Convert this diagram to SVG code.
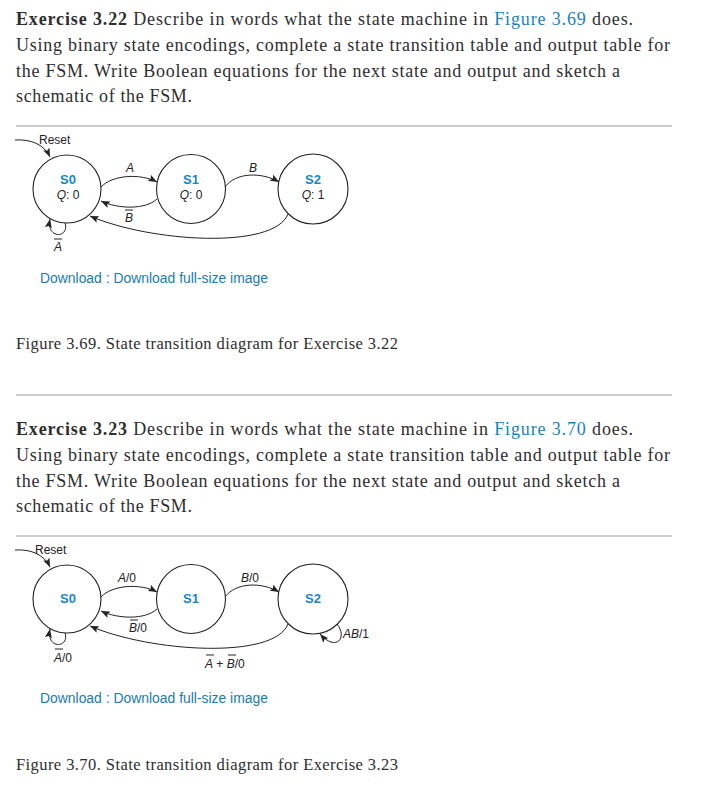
<svg xmlns="http://www.w3.org/2000/svg" width="705" height="791" viewBox="0 0 705 791">
<style>
.body{font-family:"Liberation Serif","DejaVu Serif",serif;font-size:18px;fill:#2e2e2e}
.b{font-weight:bold}
.link{fill:#1a7fbf}
.cap{font-family:"Liberation Serif","DejaVu Serif",serif;font-size:16.5px;fill:#2e2e2e}
.dl{font-family:"Liberation Sans",Arial,sans-serif;font-size:14px;fill:#1b7bb0}
.rule{stroke:#bdbdbd;stroke-width:1.5}
.st{fill:#fff;stroke:#222;stroke-width:1.1}
.sn{font-family:"Liberation Sans",Arial,sans-serif;font-size:13px;font-weight:bold;fill:#1a86c8;text-anchor:middle}
.q{font-family:"Liberation Sans",Arial,sans-serif;font-size:12px;fill:#222;text-anchor:middle}
.lb{font-family:"Liberation Sans",Arial,sans-serif;font-size:12px;fill:#222}
.i{font-style:italic}
.e{fill:none;stroke:#222;stroke-width:1}
.bar{stroke:#222;stroke-width:1}
</style>
<defs>
<marker id="ah" viewBox="0 0 10 8" refX="10" refY="4" markerWidth="9" markerHeight="7" orient="auto" markerUnits="userSpaceOnUse">
<path d="M0,0 L10,4 L0,8 L2,4 z" fill="#222"/>
</marker>
</defs>
<rect width="705" height="791" fill="#fff"/>

<!-- Exercise 3.22 text -->
<g id="ex322">
<text class="body" x="16" y="25" textLength="617" lengthAdjust="spacing"><tspan class="b">Exercise 3.22</tspan> Describe in words what the state machine in <tspan class="link">Figure 3.69</tspan> does.</text>
<text class="body" x="16" y="51" textLength="654" lengthAdjust="spacing">Using binary state encodings, complete a state transition table and output table for</text>
<text class="body" x="16" y="77" textLength="604" lengthAdjust="spacing">the FSM. Write Boolean equations for the next state and output and sketch a</text>
<text class="body" x="16" y="102" textLength="176" lengthAdjust="spacing">schematic of the FSM.</text>
</g>
<line class="rule" x1="16" y1="126" x2="672" y2="126"/>

<!-- Figure 3.69 -->
<g id="fig369-connectors">
<path class="e" d="M15,140 C30,139 44,144 50,157" marker-end="url(#ah)"/>
<path class="e" d="M101,187 C112,175 140,173 157,182" marker-end="url(#ah)"/>
<path class="e" d="M157,199 C145,210 118,209 101,201" marker-end="url(#ah)"/>
<path class="e" d="M225,187 C236,172 262,172 279,182" marker-end="url(#ah)"/>
<path class="e" d="M288,214 C274,250 150,242 90,216" marker-end="url(#ah)"/>
<path class="e" d="M65,223 C70,238 46,240 50,219" marker-end="url(#ah)"/>
</g>
<g id="fig369-S0">
<circle class="st" cx="67" cy="189" r="34"/>
<text class="sn" x="68" y="184">S0</text>
<text class="q" x="68" y="199"><tspan class="i">Q</tspan>: 0</text>
</g>
<g id="fig369-S1">
<circle class="st" cx="191" cy="189" r="34.5"/>
<text class="sn" x="191" y="184">S1</text>
<text class="q" x="191" y="199"><tspan class="i">Q</tspan>: 0</text>
</g>
<g id="fig369-S2">
<circle class="st" cx="313" cy="189" r="35"/>
<text class="sn" x="313" y="184">S2</text>
<text class="q" x="313" y="199"><tspan class="i">Q</tspan>: 1</text>
</g>
<g id="fig369-labels">
<text class="lb" x="39" y="144">Reset</text>
<text class="lb i" x="126" y="172">A</text>
<text class="lb i" x="249" y="172">B</text>
<text class="lb i" x="125" y="222">B</text>
<line class="bar" x1="125" y1="210" x2="133" y2="210"/>
<text class="lb i" x="54" y="251">A</text>
<line class="bar" x1="54" y1="239" x2="62" y2="239"/>
</g>

<g id="dl1"><text class="dl" x="40" y="283" textLength="228" lengthAdjust="spacingAndGlyphs">Download : Download full-size image</text></g>
<g id="cap1"><text class="cap" x="16" y="349" textLength="382" lengthAdjust="spacing">Figure 3.69. State transition diagram for Exercise 3.22</text></g>

<line class="rule" x1="16" y1="395" x2="672" y2="395"/>

<!-- Exercise 3.23 text -->
<g id="ex323">
<text class="body" x="16" y="435" textLength="617" lengthAdjust="spacing"><tspan class="b">Exercise 3.23</tspan> Describe in words what the state machine in <tspan class="link">Figure 3.70</tspan> does.</text>
<text class="body" x="16" y="461" textLength="654" lengthAdjust="spacing">Using binary state encodings, complete a state transition table and output table for</text>
<text class="body" x="16" y="487" textLength="604" lengthAdjust="spacing">the FSM. Write Boolean equations for the next state and output and sketch a</text>
<text class="body" x="16" y="512" textLength="176" lengthAdjust="spacing">schematic of the FSM.</text>
</g>
<line class="rule" x1="16" y1="536" x2="672" y2="536"/>

<!-- Figure 3.70 -->
<g id="fig370-connectors">
<path class="e" d="M15,550 C30,549 44,554 50,567" marker-end="url(#ah)"/>
<path class="e" d="M101,597 C112,585 140,583 157,592" marker-end="url(#ah)"/>
<path class="e" d="M157,609 C145,620 118,619 101,611" marker-end="url(#ah)"/>
<path class="e" d="M225,597 C236,582 262,582 279,592" marker-end="url(#ah)"/>
<path class="e" d="M288,624 C274,660 150,652 90,626" marker-end="url(#ah)"/>
<path class="e" d="M65,633 C70,648 46,650 50,629" marker-end="url(#ah)"/>
<path class="e" d="M337,624 C348,638 336,652 320,634" marker-end="url(#ah)"/>
</g>
<g id="fig370-S0">
<circle class="st" cx="67" cy="599" r="34"/>
<text class="sn" x="68" y="603">S0</text>
</g>
<g id="fig370-S1">
<circle class="st" cx="191" cy="599" r="34.5"/>
<text class="sn" x="191" y="603">S1</text>
</g>
<g id="fig370-S2">
<circle class="st" cx="313" cy="599" r="35"/>
<text class="sn" x="313" y="603">S2</text>
</g>
<g id="fig370-labels">
<text class="lb" x="35" y="554">Reset</text>
<text class="lb" x="118" y="582"><tspan class="i">A</tspan>/0</text>
<text class="lb" x="241" y="582"><tspan class="i">B</tspan>/0</text>
<text class="lb" x="129" y="632"><tspan class="i">B</tspan>/0</text>
<line class="bar" x1="130" y1="620" x2="138" y2="620"/>
<text class="lb" x="54" y="662"><tspan class="i">A</tspan>/0</text>
<line class="bar" x1="55" y1="649" x2="63" y2="649"/>
<text class="lb" x="343" y="638"><tspan class="i">AB</tspan>/1</text>
<text class="lb" x="205" y="668"><tspan class="i">A</tspan> + <tspan class="i">B</tspan>/0</text>
<line class="bar" x1="206" y1="655" x2="214" y2="655"/>
<line class="bar" x1="228" y1="655" x2="236" y2="655"/>
</g>

<g id="dl2"><text class="dl" x="40" y="703" textLength="228" lengthAdjust="spacingAndGlyphs">Download : Download full-size image</text></g>
<g id="cap2"><text class="cap" x="16" y="770" textLength="382" lengthAdjust="spacing">Figure 3.70. State transition diagram for Exercise 3.23</text></g>
</svg>
